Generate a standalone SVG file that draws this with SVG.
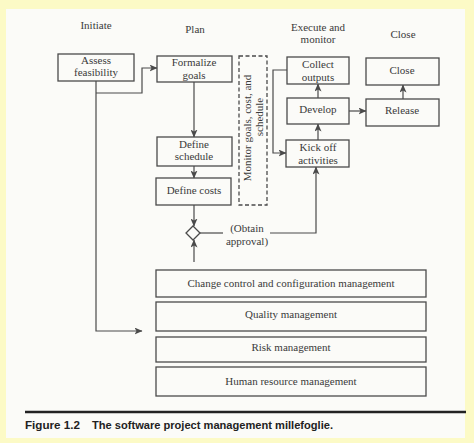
<svg xmlns="http://www.w3.org/2000/svg" width="474" height="443" viewBox="0 0 474 443">
<style>
.box{fill:none;stroke:#4a4a4a;stroke-width:1.3}
.t{font-family:"Liberation Serif","DejaVu Serif",serif;font-size:11px;fill:#3a3a3a;text-anchor:middle}
.c{fill:none;stroke:#4a4a4a;stroke-width:1.2}
.cap{font-family:"Liberation Sans","DejaVu Sans",sans-serif;font-size:11px;font-weight:bold;fill:#222}
</style>
<defs>
<marker id="ah" viewBox="0 0 8 7" refX="7.5" refY="3.5" markerWidth="8" markerHeight="7" markerUnits="userSpaceOnUse" orient="auto">
<path d="M0,0 L8,3.5 L0,7 L2,3.5 z" fill="#4a4a4a"/>
</marker>
</defs>
<rect x="0" y="0" width="474" height="443" fill="#fcfac6"/>
<rect x="6" y="9" width="459" height="429" fill="#fbfbf8"/>

<g id="headers">
<text class="t" x="96" y="29">Initiate</text>
<text class="t" x="195" y="33">Plan</text>
<text class="t" x="318" y="31">Execute and</text>
<text class="t" x="318" y="43">monitor</text>
<text class="t" x="403" y="38">Close</text>
</g>

<g id="connectors">
<path class="c" d="M96,81 V331 H142" marker-end="url(#ah)"/>
<path class="c" d="M96,93 H142 V68 H157" marker-end="url(#ah)"/>
<path class="c" d="M194,82 V137" marker-end="url(#ah)"/>
<path class="c" d="M194,166 V178" marker-end="url(#ah)"/>
<path class="c" d="M194,205 V226" marker-end="url(#ah)"/>
<path class="c" d="M194,262 V240" marker-end="url(#ah)"/>
<path class="c" d="M200,233 H223"/>
<path class="c" d="M270,233 H316 V167" marker-end="url(#ah)"/>
<path class="c" d="M318,140 V124" marker-end="url(#ah)"/>
<path class="c" d="M318,98 V84" marker-end="url(#ah)"/>
<path class="c" d="M349,111 H366" marker-end="url(#ah)"/>
<path class="c" d="M403,99 V85" marker-end="url(#ah)"/>
<path class="c" d="M287,70 H273 V153 H286" marker-end="url(#ah)"/>
<text class="t" x="247" y="232">(Obtain</text>
<text class="t" x="247" y="245">approval)</text>
</g>

<g id="assess">
<rect class="box" x="58" y="54" width="76" height="27"/>
<text class="t" x="96" y="64">Assess</text>
<text class="t" x="96" y="76">feasibility</text>
</g>
<g id="formalize">
<rect class="box" x="157" y="56" width="75" height="26"/>
<text class="t" x="194" y="66">Formalize</text>
<text class="t" x="194" y="79">goals</text>
</g>
<g id="define-schedule">
<rect class="box" x="157" y="137" width="75" height="29"/>
<text class="t" x="194" y="148">Define</text>
<text class="t" x="194" y="160">schedule</text>
</g>
<g id="define-costs">
<rect class="box" x="156" y="178" width="75" height="27"/>
<text class="t" x="194" y="194">Define costs</text>
</g>
<g id="approval">
<polygon class="box" points="193,226 200,233 193,240 186,233"/>
</g>
<g id="monitor">
<rect class="box" x="239" y="56" width="28" height="149" stroke-dasharray="4,2.5"/>
<text class="t" transform="translate(251,128) rotate(-90)" font-size="10.5">Monitor goals, cost, and</text>
<text class="t" transform="translate(263,117) rotate(-90)" font-size="10.5">schedule</text>
</g>
<g id="collect">
<rect class="box" x="287" y="57" width="62" height="27"/>
<text class="t" x="318" y="68">Collect</text>
<text class="t" x="318" y="81">outputs</text>
</g>
<g id="develop">
<rect class="box" x="287" y="98" width="62" height="26"/>
<text class="t" x="318" y="113">Develop</text>
</g>
<g id="kickoff">
<rect class="box" x="286" y="140" width="63" height="27"/>
<text class="t" x="318" y="151">Kick off</text>
<text class="t" x="318" y="164">activities</text>
</g>
<g id="close">
<rect class="box" x="366" y="58" width="73" height="27"/>
<text class="t" x="402" y="74">Close</text>
</g>
<g id="release">
<rect class="box" x="366" y="99" width="73" height="27"/>
<text class="t" x="402" y="114">Release</text>
</g>

<g id="change-control">
<rect class="box" x="156" y="270" width="270" height="27"/>
<text class="t" x="291" y="287">Change control and configuration management</text>
</g>
<g id="quality">
<rect class="box" x="156" y="302" width="270" height="29"/>
<text class="t" x="291" y="318">Quality management</text>
</g>
<g id="risk">
<rect class="box" x="156" y="337" width="270" height="25"/>
<text class="t" x="291" y="351">Risk management</text>
</g>
<g id="human">
<rect class="box" x="156" y="367" width="270" height="29"/>
<text class="t" x="291" y="385">Human resource management</text>
</g>

<g id="caption">
<line x1="25" y1="412" x2="466" y2="412" stroke="#222" stroke-width="2.5"/>
<text class="cap" x="25" y="429" textLength="55" lengthAdjust="spacingAndGlyphs">Figure 1.2</text>
<text class="cap" x="92" y="429" textLength="241" lengthAdjust="spacingAndGlyphs">The software project management millefoglie.</text>
</g>
</svg>
